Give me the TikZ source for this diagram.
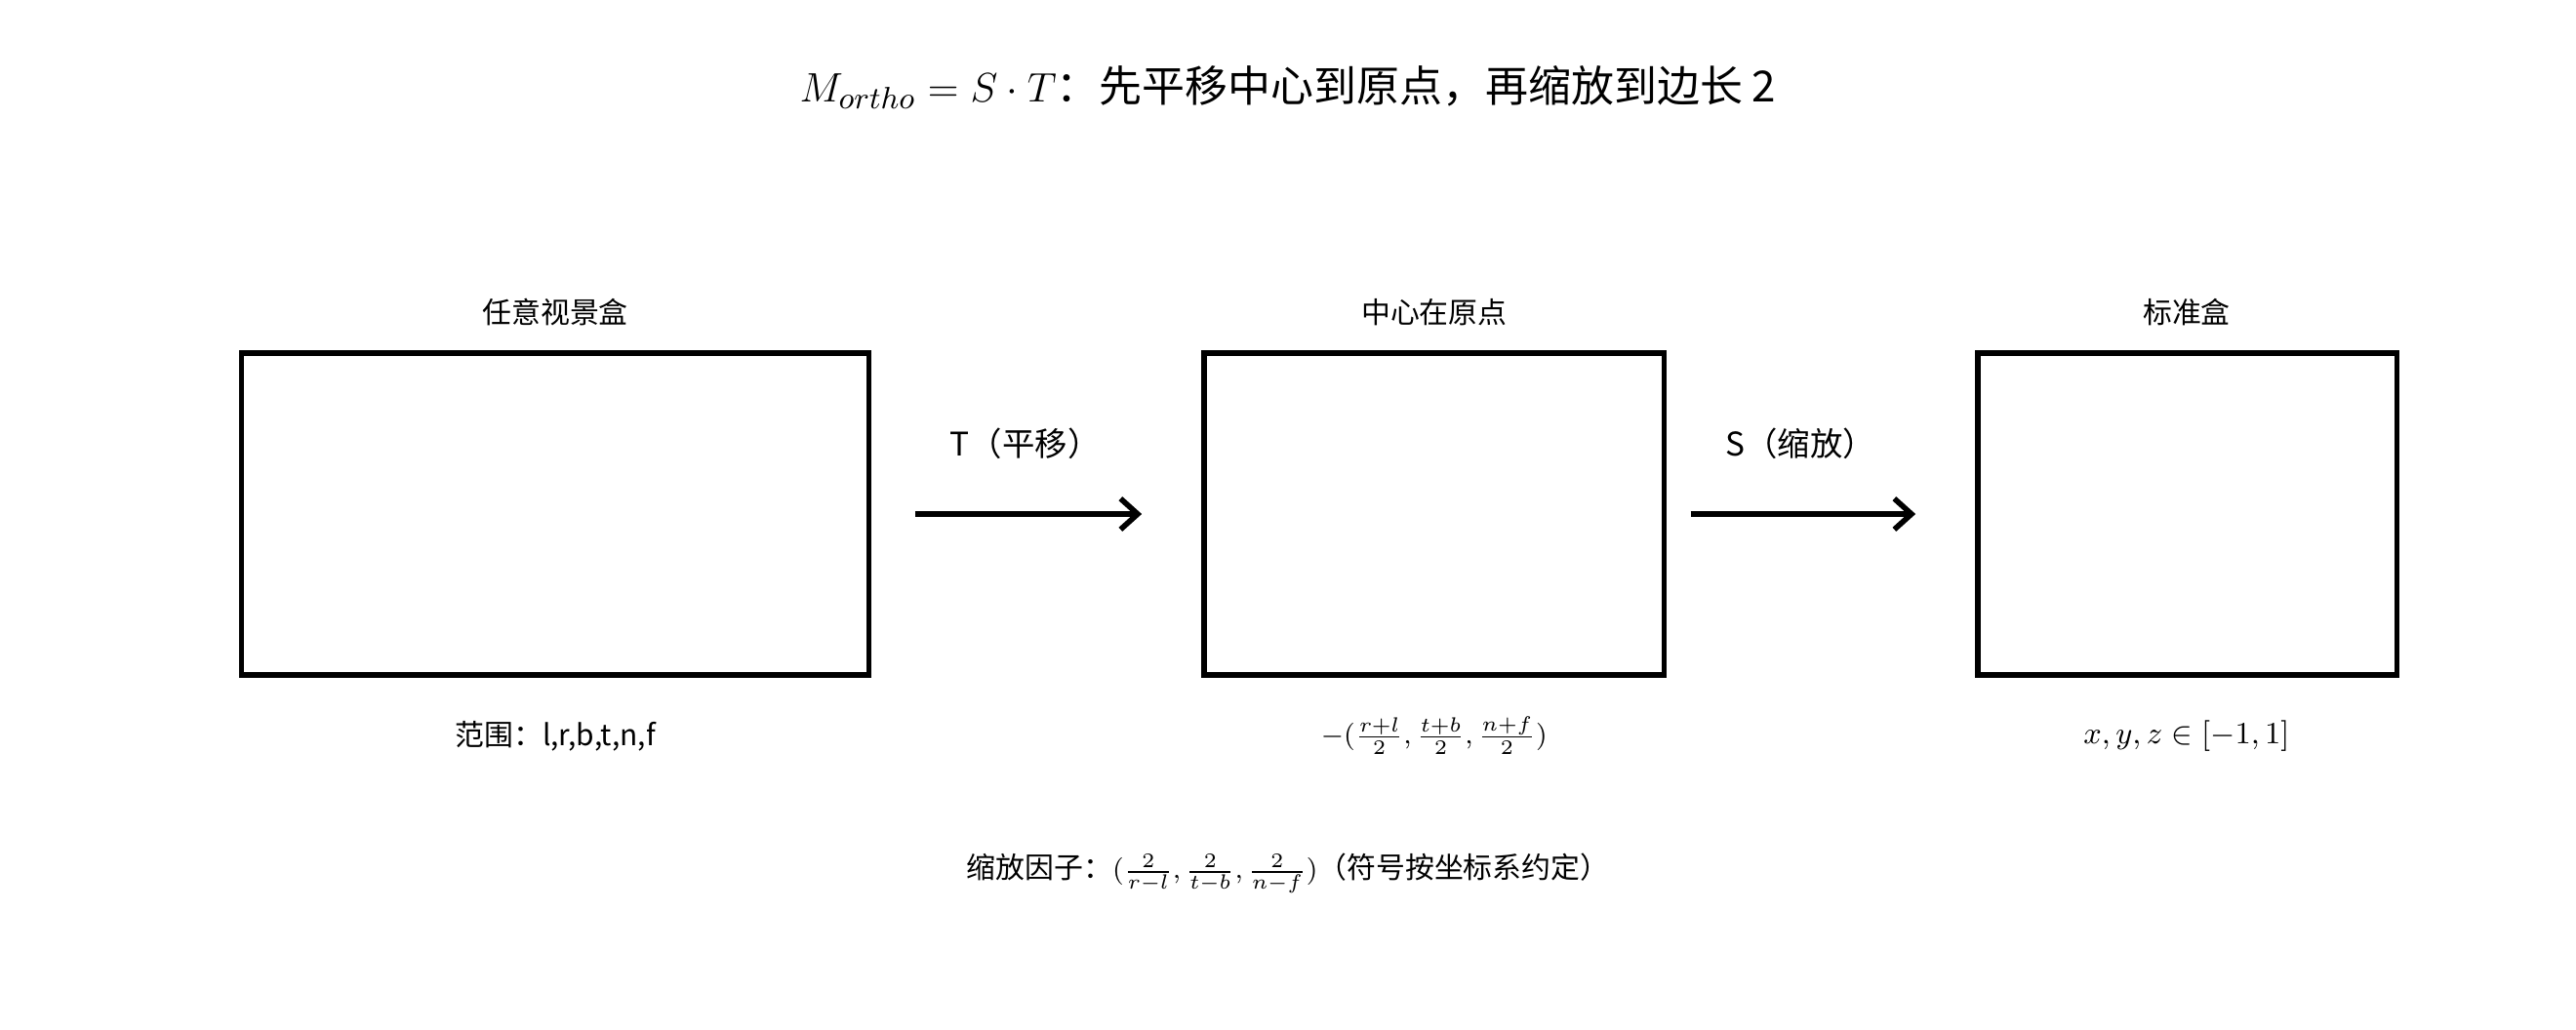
\documentclass[tikz,border=0pt]{standalone}
\usepackage{fontspec}
\setmainfont{Noto Sans CJK SC}
\usetikzlibrary{arrows.meta}
\begin{document}
\begin{tikzpicture}[x=0.016837cm,y=-0.016837cm,
  bx/.style={draw,line width=1.6pt},
  arr/.style={line width=1.6pt,-{Straight Barb[length=5pt,width=9pt]}},
  lb/.style={font=\fontsize{8.5}{10}\selectfont,inner sep=0}]
\useasboundingbox (0,0) rectangle (1568,627);
\node[font=\fontsize{12.5}{15}\selectfont,inner sep=0] (title) at (784,53) {$M_{ortho}=S\cdot T$：先平移中心到原点，再缩放到边长 2};
\draw[bx] (147,215) rectangle (529,411);
\draw[bx] (733,215) rectangle (1013,411);
\draw[bx] (1204,215) rectangle (1459,411);
\node[lb] (l1) at (338,190) {任意视景盒};
\node[lb] (l2) at (873,190) {中心在原点};
\node[lb] (l3) at (1331,190) {标准盒};
\coordinate (a1s) at (557,313); \coordinate (a1e) at (695,313);
\coordinate (a2s) at (1029,313); \coordinate (a2e) at (1166,313);
\draw[arr] (a1s) -- (a1e);
\draw[arr] (a2s) -- (a2e);
\node[lb,font=\fontsize{9.5}{11}\selectfont] (t) at (624,270) {T（平移）};
\node[lb,font=\fontsize{9.5}{11}\selectfont] (s) at (1096,270) {S（缩放）};
\node[lb] (d1) at (338,448) {范围：l,r,b,t,n,f};
\node[lb] (d2) at (873,448) {$-(\frac{r+l}{2},\frac{t+b}{2},\frac{n+f}{2})$};
\node[lb,font=\fontsize{9.5}{11}\selectfont] (d3) at (1331,448) {$x,y,z\in[-1,1]$};
\node[lb] (f) at (784,532) {缩放因子：$(\frac{2}{r-l},\frac{2}{t-b},\frac{2}{n-f})$（符号按坐标系约定）};
\end{tikzpicture}
\end{document}
